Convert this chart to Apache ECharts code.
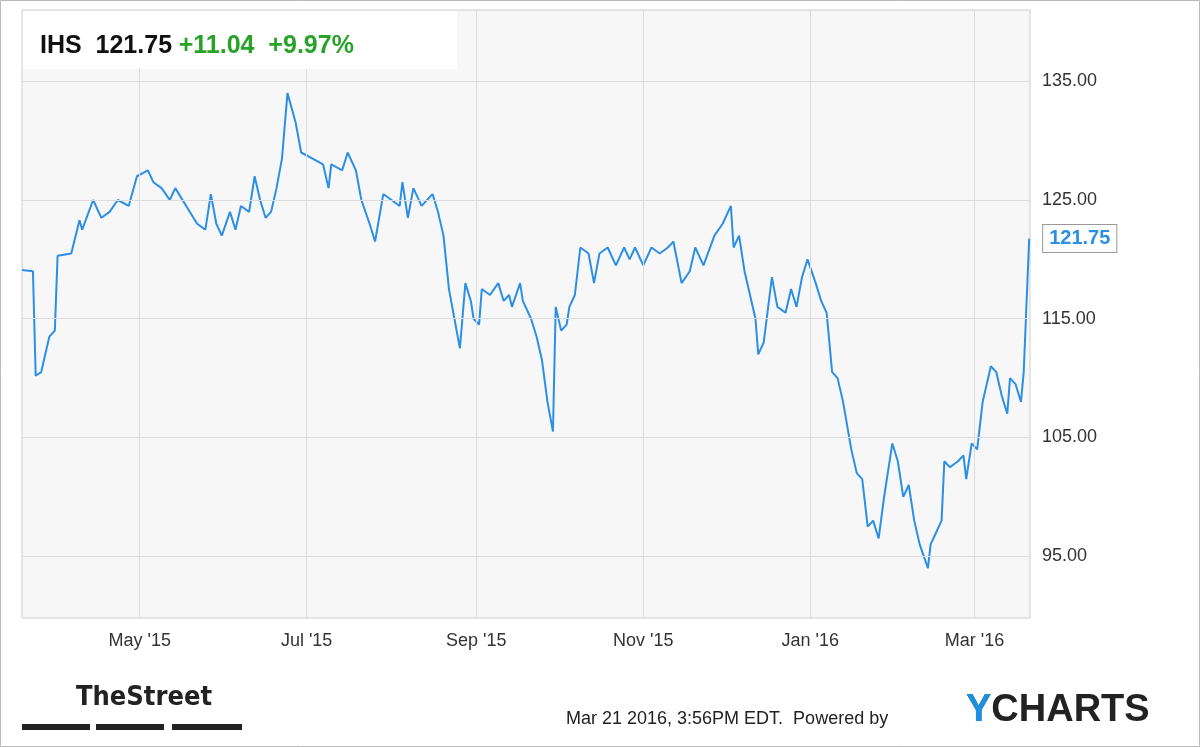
<!DOCTYPE html>
<html>
<head>
<meta charset="UTF-8">
<script src="https://cdn.jsdelivr.net/npm/echarts@6/dist/echarts.min.js"></script>
<style>
html,body{margin:0;padding:0;background:#fff}
#main{width:1200px;height:747px}
</style>
</head>
<body>
<div id="main"></div>
<script>
// days since 2015-03-19
var days = [0,4,5,7,10,12,13,18,21,22,26,29,32,35,39,42,46,48,51,54,56,60,64,67,69,71,73,76,78,80,83,85,87,89,91,93,95,97,100,102,106,110,112,113,117,119,122,124,127,129,132,135,138,139,141,143,146,150,152,154,156,158,160,162,164,165,167,168,171,174,176,178,179,182,183,186,188,190,192,194,195,197,199,200,202,204,207,209,211,214,217,220,222,224,227,230,233,236,238,241,244,246,249,253,256,259,260,262,264,266,268,269,271,274,276,279,281,283,285,287,290,292,294,296,298,300,303,305,307,309,311,313,315,318,320,322,324,326,328,331,332,334,336,337,339,342,344,345,347,349,351,354,356,358,360,361,363,365,366,368];
var prices = [119.1,119,110.2,110.5,113.5,114,120.3,120.5,123.3,122.5,125,123.5,124,125,124.5,127,127.5,126.5,126,125,126,124.5,123,122.5,125.5,123,122,124,122.5,124.5,124,127,125,123.5,124,126,128.5,134,131.5,129,128.5,128,126,128,127.5,129,127.5,125,123,121.5,125.5,125,124.5,126.5,123.5,126,124.5,125.5,124,122,117.5,115,112.5,118,116.5,115,114.5,117.5,117,118,116.5,117,116,118,116.5,115,113.5,111.5,108,105.5,116,114,114.5,116,117,121,120.5,118,120.5,121,119.5,121,120,121,119.5,121,120.5,121,121.5,118,119,121,119.5,122,123,124.5,121,122,119,117,115,112,113,118.5,116,115.5,117.5,116,118.5,120,118,116.5,115.5,110.5,110,108,104,102,101.5,97.5,98,96.5,100,104.5,103,100,101,98,96,94,96,97,98,103,102.5,103,103.5,101.5,104.5,104,108,111,110.5,108.5,107,110,109.5,108,110.5,121.75];
var monthTicks = [43,104,166,227,288,348];
var monthLabels = ["May '15","Jul '15","Sep '15","Nov '15","Jan '16","Mar '16"];
var priceTicks = [95,105,115,125,135];

var data = days.map(function(d,i){return [d,prices[i]];});
var gridLines = monthTicks.map(function(v){return {xAxis:v};})
    .concat(priceTicks.map(function(v){return {yAxis:v};}));

var myChart = echarts.init(document.getElementById('main'));
var option = {
    backgroundColor:'#fff',
    animation:false,
    grid:{left:22,right:170,top:10,bottom:129,show:true,backgroundColor:'#f7f7f7',borderColor:'#cfcfcf',borderWidth:1},
    xAxis:{type:'value',min:0,max:368.3,splitLine:{show:false},
        axisLine:{show:false},axisTick:{show:false},
        axisLabel:{customValues:monthTicks,color:'#333',fontSize:18,fontFamily:'Liberation Sans',margin:14,
            formatter:function(v){return monthLabels[monthTicks.indexOf(v)];}}},
    yAxis:{type:'value',position:'right',min:89.8,max:141,splitLine:{show:false},
        axisLine:{show:false},axisTick:{show:false},
        axisLabel:{customValues:priceTicks,color:'#333',fontSize:18,fontFamily:'Liberation Sans',margin:12,
            formatter:function(v){return v.toFixed(2);}}},
    graphic:[
        {type:'rect',shape:{x:0.5,y:0.5,width:1199,height:746},style:{fill:'none',stroke:'#bbb',lineWidth:1}},
        {type:'rect',z:100,shape:{x:23,y:11,width:434,height:58},style:{fill:'#fff'}},
        {type:'text',z:101,left:40,top:34,style:{rich:{a:{fill:'#111',fontSize:25,fontWeight:'bold',fontFamily:'Liberation Sans'},g:{fill:'#27a327',fontSize:25,fontWeight:'bold',fontFamily:'Liberation Sans'}},
            text:'{a|IHS  121.75}  {g|+11.04  +9.97%}'}},
        {type:'text',left:76,top:684,style:{text:'TheStreet',fill:'#222',fontSize:27,fontWeight:'bold',fontFamily:'DejaVu Sans Condensed'}},
        {type:'rect',shape:{x:22,y:724,width:68,height:6},style:{fill:'#222'}},
        {type:'rect',shape:{x:96,y:724,width:68,height:6},style:{fill:'#222'}},
        {type:'rect',shape:{x:172,y:724,width:70,height:6},style:{fill:'#222'}},
        {type:'text',left:566,top:710,style:{text:'Mar 21 2016, 3:56PM EDT.  Powered by',fill:'#222',fontSize:18,fontFamily:'Liberation Sans'}},
        {type:'text',left:966,top:692,style:{text:'YCHARTS',fill:'#222',fontSize:38,fontWeight:'bold',fontFamily:'Liberation Sans'}},
        {type:'text',left:966,top:692,style:{text:'Y',fill:'#1a8fe3',fontSize:38,fontWeight:'bold',fontFamily:'Liberation Sans'}}
    ],
    series:[{
        type:'line',data:data,showSymbol:false,
        lineStyle:{color:'#2b8fe6',width:2},
        endLabel:{show:true,distance:14,formatter:'121.75',color:'#2b8fe6',fontSize:20,fontWeight:'bold',
            fontFamily:'Liberation Sans',backgroundColor:'#fff',borderColor:'#999',borderWidth:1,padding:[4,6,3,6]},
        markLine:{silent:true,symbol:['none','none'],label:{show:false},
            lineStyle:{color:'#dcdcdc',type:'solid',width:1},data:gridLines}
    }]
};
myChart.setOption(option);
</script>
</body>
</html>
